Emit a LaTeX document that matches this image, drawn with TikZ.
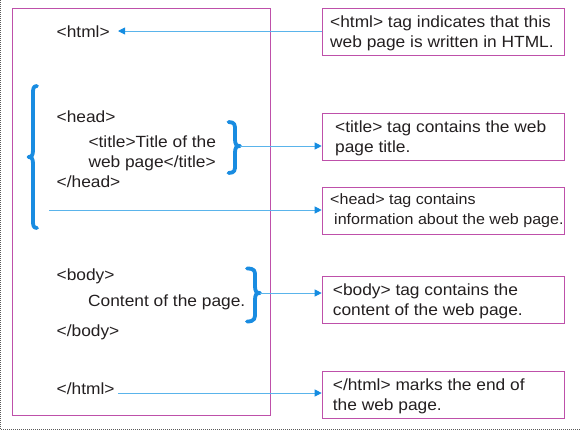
\documentclass[tikz,border=0pt]{standalone}
\usepackage{fontspec}
\setmainfont{Liberation Sans}[FakeStretch=1.07]
\usetikzlibrary{arrows.meta,calc}
\definecolor{boxc}{RGB}{190,80,170}
\definecolor{linec}{RGB}{90,180,235}
\definecolor{tipc}{RGB}{20,140,225}
\definecolor{bracec}{RGB}{25,140,225}
\definecolor{txtc}{RGB}{35,31,32}
\definecolor{framec}{RGB}{90,90,90}
\begin{document}
\begin{tikzpicture}[x=1bp,y=-1bp,
  font=\fontsize{16.2bp}{20bp}\selectfont, text=txtc,
  lbl/.style={anchor=base west, inner sep=0pt},
  tbox/.style={draw=boxc, line width=0.9bp, anchor=north west,
    minimum width=242.5bp, minimum height=47bp, inner sep=0pt},
  btxt/.style={anchor=north west, inner sep=0pt, align=left},
  conn/.style={draw=linec, line width=0.9bp,
    -{Triangle[length=7bp,width=7bp,color=tipc]}},
  bracep/.style={draw=bracec, line width=3.8bp, line cap=round, line join=round}]
\useasboundingbox (0,0) rectangle (580,431);
% outer frame
\draw[framec, line width=1.2bp, dash pattern=on 1bp off 1bp] (0.6,0) -- (0.6,429.4) -- (580,429.4);
% page box
\node[draw=boxc, line width=0.9bp, anchor=north west, minimum width=258bp,
  minimum height=407bp, inner sep=0pt] (page) at (12,8) {};
% left texts
\node[lbl] (html1) at (56.5,37.3) {<html>};
\node[lbl] (head1) at (56.5,122.5) {<head>};
\node[lbl] (title1) at (88.3,147.5) {<title>Title of the};
\node[lbl] (title2) at (88.3,167) {web page</title>};
\node[lbl] (head2) at (56.5,187.5) {</head>};
\node[lbl] (body1) at (56.5,280) {<body>};
\node[lbl] (content) at (88,306) {Content of the page.};
\node[lbl] (body2) at (56.5,336.5) {</body>};
\node[lbl] (html2) at (56.5,394.5) {</html>};
% right boxes
\node[tbox] (b1) at (321.7,8.3) {};
\node[tbox] (b2) at (321.7,113.3) {};
\node[tbox] (b3) at (321.7,187.3) {};
\node[tbox] (b4) at (321.7,276) {};
\node[tbox] (b5) at (321.7,371.3) {};
\node[btxt] (t1) at ($(b1.north west)+(8.3,5)$) {\strut<html> tag indicates that this\\\strut web page is written in HTML.};
\node[btxt] (t2) at ($(b2.north west)+(13.3,5)$) {\strut<title> tag contains the web\\\strut page title.};
\node[btxt, font=\fontsize{15bp}{20bp}\selectfont] (t3) at ($(b3.north west)+(8.3,3)$) {\strut<head> tag contains\\\strut\hspace*{4bp}information about the web page.};
\node[btxt] (t4) at ($(b4.north west)+(11,5)$) {\strut<body> tag contains the\\\strut content of the web page.};
\node[btxt] (t5) at ($(b5.north west)+(11,5)$) {\strut</html> marks the end of\\\strut the web page.};
% braces
\draw[bracep] (37,86) .. controls (33,86) and (33,89) .. (33,94) -- (33,150)
  .. controls (33,155) and (32,157) .. (28.5,157)
  .. controls (32,157) and (33,159) .. (33,164) -- (33,220)
  .. controls (33,225) and (33,228) .. (37,228);
\draw[bracep] (228.5,122) .. controls (235,122) and (235,125) .. (235,130) -- (235,139)
  .. controls (235,144) and (236,146) .. (240,146)
  .. controls (236,146) and (235,148) .. (235,153) -- (235,165)
  .. controls (235,170) and (235,173) .. (228.5,173);
\draw[bracep] (247,268.5) .. controls (255,268.5) and (255,271) .. (255,276) -- (255,286)
  .. controls (255,291) and (256,293) .. (260,293)
  .. controls (256,293) and (255,295) .. (255,300) -- (255,313)
  .. controls (255,318) and (255,321.5) .. (247,321.5);
% connector end points
\coordinate (h1tip) at (118,31);
\coordinate (titletip) at (240,146);
\coordinate (headstart) at (49,210);
\coordinate (bodytip) at (260,293);
\coordinate (h2start) at (118,393);
% connectors
\draw[conn] (b1.west |- h1tip) -- (h1tip);
\draw[conn] (titletip) -- (titletip -| b2.west);
\draw[conn] (headstart) -- (headstart -| b3.west);
\draw[conn] (bodytip) -- (bodytip -| b4.west);
\draw[conn] (h2start) -- (h2start -| b5.west);
\end{tikzpicture}
\end{document}
